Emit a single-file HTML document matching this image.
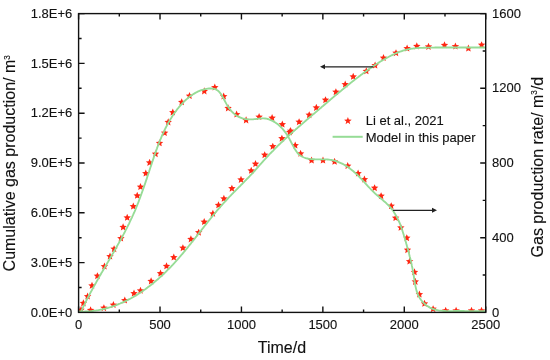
<!DOCTYPE html><html><head><meta charset="utf-8"><style>html,body{margin:0;padding:0;background:#fff;}svg{display:block;}text{font-family:"Liberation Sans",Arial,sans-serif;fill:#111;stroke:#111;stroke-width:0.12px;}</style></head><body>
<svg width="550" height="360" viewBox="0 0 550 360">
<rect width="550" height="360" fill="#fff"/>
<path d="M78.60 312.40V306.40M78.60 13.60V19.60M119.31 312.40V309.40M119.31 13.60V16.60M160.02 312.40V306.40M160.02 13.60V19.60M200.73 312.40V309.40M200.73 13.60V16.60M241.44 312.40V306.40M241.44 13.60V19.60M282.15 312.40V309.40M282.15 13.60V16.60M322.86 312.40V306.40M322.86 13.60V19.60M363.57 312.40V309.40M363.57 13.60V16.60M404.28 312.40V306.40M404.28 13.60V19.60M444.99 312.40V309.40M444.99 13.60V16.60M485.70 312.40V306.40M485.70 13.60V19.60M78.60 312.40H84.60M78.60 287.50H81.60M78.60 262.60H84.60M78.60 237.70H81.60M78.60 212.80H84.60M78.60 187.90H81.60M78.60 163.00H84.60M78.60 138.10H81.60M78.60 113.20H84.60M78.60 88.30H81.60M78.60 63.40H84.60M78.60 38.50H81.60M78.60 13.60H84.60M485.70 312.40H480.20M485.70 275.05H482.70M485.70 237.70H480.20M485.70 200.35H482.70M485.70 163.00H480.20M485.70 125.65H482.70M485.70 88.30H480.20M485.70 50.95H482.70M485.70 13.60H480.20" stroke="#111" stroke-width="1.4" fill="none"/>
<defs><clipPath id="pa"><rect x="78.60" y="13.60" width="407.10" height="299.10"/></clipPath></defs><g clip-path="url(#pa)">
<path d="M81.00 306.05L82.06 308.49L84.71 308.74L82.71 310.51L83.29 313.11L81.00 311.75L78.71 313.11L79.29 310.51L77.29 308.74L79.94 308.49ZM83.40 299.35L84.46 301.79L87.11 302.04L85.11 303.81L85.69 306.41L83.40 305.05L81.11 306.41L81.69 303.81L79.69 302.04L82.34 301.79ZM87.60 292.55L88.66 294.99L91.31 295.24L89.31 297.01L89.89 299.61L87.60 298.25L85.31 299.61L85.89 297.01L83.89 295.24L86.54 294.99ZM92.00 281.75L93.06 284.19L95.71 284.44L93.71 286.21L94.29 288.81L92.00 287.45L89.71 288.81L90.29 286.21L88.29 284.44L90.94 284.19ZM97.40 272.15L98.46 274.59L101.11 274.84L99.11 276.61L99.69 279.21L97.40 277.85L95.11 279.21L95.69 276.61L93.69 274.84L96.34 274.59ZM104.40 262.55L105.46 264.99L108.11 265.24L106.11 267.01L106.69 269.61L104.40 268.25L102.11 269.61L102.69 267.01L100.69 265.24L103.34 264.99ZM110.00 252.55L111.06 254.99L113.71 255.24L111.71 257.01L112.29 259.61L110.00 258.25L107.71 259.61L108.29 257.01L106.29 255.24L108.94 254.99ZM114.10 245.15L115.16 247.59L117.81 247.84L115.81 249.61L116.39 252.21L114.10 250.85L111.81 252.21L112.39 249.61L110.39 247.84L113.04 247.59ZM120.90 234.55L121.96 236.99L124.61 237.24L122.61 239.01L123.19 241.61L120.90 240.25L118.61 241.61L119.19 239.01L117.19 237.24L119.84 236.99ZM123.10 223.35L124.16 225.79L126.81 226.04L124.81 227.81L125.39 230.41L123.10 229.05L120.81 230.41L121.39 227.81L119.39 226.04L122.04 225.79ZM127.20 213.75L128.26 216.19L130.91 216.44L128.91 218.21L129.49 220.81L127.20 219.45L124.91 220.81L125.49 218.21L123.49 216.44L126.14 216.19ZM133.30 202.55L134.36 204.99L137.01 205.24L135.01 207.01L135.59 209.61L133.30 208.25L131.01 209.61L131.59 207.01L129.59 205.24L132.24 204.99ZM137.20 191.75L138.26 194.19L140.91 194.44L138.91 196.21L139.49 198.81L137.20 197.45L134.91 198.81L135.49 196.21L133.49 194.44L136.14 194.19ZM140.50 182.95L141.56 185.39L144.21 185.64L142.21 187.41L142.79 190.01L140.50 188.65L138.21 190.01L138.79 187.41L136.79 185.64L139.44 185.39ZM145.80 169.55L146.86 171.99L149.51 172.24L147.51 174.01L148.09 176.61L145.80 175.25L143.51 176.61L144.09 174.01L142.09 172.24L144.74 171.99ZM149.60 158.85L150.66 161.29L153.31 161.54L151.31 163.31L151.89 165.91L149.60 164.55L147.31 165.91L147.89 163.31L145.89 161.54L148.54 161.29ZM155.50 150.15L156.56 152.59L159.21 152.84L157.21 154.61L157.79 157.21L155.50 155.85L153.21 157.21L153.79 154.61L151.79 152.84L154.44 152.59ZM159.50 139.25L160.56 141.69L163.21 141.94L161.21 143.71L161.79 146.31L159.50 144.95L157.21 146.31L157.79 143.71L155.79 141.94L158.44 141.69ZM164.60 129.05L165.66 131.49L168.31 131.74L166.31 133.51L166.89 136.11L164.60 134.75L162.31 136.11L162.89 133.51L160.89 131.74L163.54 131.49ZM168.20 118.35L169.26 120.79L171.91 121.04L169.91 122.81L170.49 125.41L168.20 124.05L165.91 125.41L166.49 122.81L164.49 121.04L167.14 120.79ZM172.80 108.55L173.86 110.99L176.51 111.24L174.51 113.01L175.09 115.61L172.80 114.25L170.51 115.61L171.09 113.01L169.09 111.24L171.74 110.99ZM181.70 98.25L182.76 100.69L185.41 100.94L183.41 102.71L183.99 105.31L181.70 103.95L179.41 105.31L179.99 102.71L177.99 100.94L180.64 100.69ZM189.50 92.05L190.56 94.49L193.21 94.74L191.21 96.51L191.79 99.11L189.50 97.75L187.21 99.11L187.79 96.51L185.79 94.74L188.44 94.49ZM204.30 87.35L205.36 89.79L208.01 90.04L206.01 91.81L206.59 94.41L204.30 93.05L202.01 94.41L202.59 91.81L200.59 90.04L203.24 89.79ZM214.80 83.55L215.86 85.99L218.51 86.24L216.51 88.01L217.09 90.61L214.80 89.25L212.51 90.61L213.09 88.01L211.09 86.24L213.74 85.99ZM223.70 92.55L224.76 94.99L227.41 95.24L225.41 97.01L225.99 99.61L223.70 98.25L221.41 99.61L221.99 97.01L219.99 95.24L222.64 94.99ZM228.10 104.35L229.16 106.79L231.81 107.04L229.81 108.81L230.39 111.41L228.10 110.05L225.81 111.41L226.39 108.81L224.39 107.04L227.04 106.79ZM236.60 110.55L237.66 112.99L240.31 113.24L238.31 115.01L238.89 117.61L236.60 116.25L234.31 117.61L234.89 115.01L232.89 113.24L235.54 112.99ZM246.10 116.35L247.16 118.79L249.81 119.04L247.81 120.81L248.39 123.41L246.10 122.05L243.81 123.41L244.39 120.81L242.39 119.04L245.04 118.79ZM259.10 112.95L260.16 115.39L262.81 115.64L260.81 117.41L261.39 120.01L259.10 118.65L256.81 120.01L257.39 117.41L255.39 115.64L258.04 115.39ZM272.10 114.05L273.16 116.49L275.81 116.74L273.81 118.51L274.39 121.11L272.10 119.75L269.81 121.11L270.39 118.51L268.39 116.74L271.04 116.49ZM282.30 120.55L283.36 122.99L286.01 123.24L284.01 125.01L284.59 127.61L282.30 126.25L280.01 127.61L280.59 125.01L278.59 123.24L281.24 122.99ZM290.60 126.95L291.66 129.39L294.31 129.64L292.31 131.41L292.89 134.01L290.60 132.65L288.31 134.01L288.89 131.41L286.89 129.64L289.54 129.39ZM295.20 141.55L296.26 143.99L298.91 144.24L296.91 146.01L297.49 148.61L295.20 147.25L292.91 148.61L293.49 146.01L291.49 144.24L294.14 143.99ZM300.60 149.75L301.66 152.19L304.31 152.44L302.31 154.21L302.89 156.81L300.60 155.45L298.31 156.81L298.89 154.21L296.89 152.44L299.54 152.19ZM311.60 156.45L312.66 158.89L315.31 159.14L313.31 160.91L313.89 163.51L311.60 162.15L309.31 163.51L309.89 160.91L307.89 159.14L310.54 158.89ZM323.00 156.55L324.06 158.99L326.71 159.24L324.71 161.01L325.29 163.61L323.00 162.25L320.71 163.61L321.29 161.01L319.29 159.24L321.94 158.99ZM334.60 157.75L335.66 160.19L338.31 160.44L336.31 162.21L336.89 164.81L334.60 163.45L332.31 164.81L332.89 162.21L330.89 160.44L333.54 160.19ZM347.70 162.05L348.76 164.49L351.41 164.74L349.41 166.51L349.99 169.11L347.70 167.75L345.41 169.11L345.99 166.51L343.99 164.74L346.64 164.49ZM358.10 169.55L359.16 171.99L361.81 172.24L359.81 174.01L360.39 176.61L358.10 175.25L355.81 176.61L356.39 174.01L354.39 172.24L357.04 171.99ZM364.40 175.55L365.46 177.99L368.11 178.24L366.11 180.01L366.69 182.61L364.40 181.25L362.11 182.61L362.69 180.01L360.69 178.24L363.34 177.99ZM374.60 184.15L375.66 186.59L378.31 186.84L376.31 188.61L376.89 191.21L374.60 189.85L372.31 191.21L372.89 188.61L370.89 186.84L373.54 186.59ZM381.10 192.15L382.16 194.59L384.81 194.84L382.81 196.61L383.39 199.21L381.10 197.85L378.81 199.21L379.39 196.61L377.39 194.84L380.04 194.59ZM391.20 202.15L392.26 204.59L394.91 204.84L392.91 206.61L393.49 209.21L391.20 207.85L388.91 209.21L389.49 206.61L387.49 204.84L390.14 204.59ZM395.60 213.95L396.66 216.39L399.31 216.64L397.31 218.41L397.89 221.01L395.60 219.65L393.31 221.01L393.89 218.41L391.89 216.64L394.54 216.39ZM400.80 223.75L401.86 226.19L404.51 226.44L402.51 228.21L403.09 230.81L400.80 229.45L398.51 230.81L399.09 228.21L397.09 226.44L399.74 226.19ZM406.80 234.15L407.86 236.59L410.51 236.84L408.51 238.61L409.09 241.21L406.80 239.85L404.51 241.21L405.09 238.61L403.09 236.84L405.74 236.59ZM407.50 246.15L408.56 248.59L411.21 248.84L409.21 250.61L409.79 253.21L407.50 251.85L405.21 253.21L405.79 250.61L403.79 248.84L406.44 248.59ZM409.60 257.45L410.66 259.89L413.31 260.14L411.31 261.91L411.89 264.51L409.60 263.15L407.31 264.51L407.89 261.91L405.89 260.14L408.54 259.89ZM414.50 268.25L415.56 270.69L418.21 270.94L416.21 272.71L416.79 275.31L414.50 273.95L412.21 275.31L412.79 272.71L410.79 270.94L413.44 270.69ZM415.30 277.85L416.36 280.29L419.01 280.54L417.01 282.31L417.59 284.91L415.30 283.55L413.01 284.91L413.59 282.31L411.59 280.54L414.24 280.29ZM419.40 290.45L420.46 292.89L423.11 293.14L421.11 294.91L421.69 297.51L419.40 296.15L417.11 297.51L417.69 294.91L415.69 293.14L418.34 292.89ZM424.50 299.75L425.56 302.19L428.21 302.44L426.21 304.21L426.79 306.81L424.50 305.45L422.21 306.81L422.79 304.21L420.79 302.44L423.44 302.19ZM433.10 305.15L434.16 307.59L436.81 307.84L434.81 309.61L435.39 312.21L433.10 310.85L430.81 312.21L431.39 309.61L429.39 307.84L432.04 307.59ZM445.70 306.75L446.76 309.19L449.41 309.44L447.41 311.21L447.99 313.81L445.70 312.45L443.41 313.81L443.99 311.21L441.99 309.44L444.64 309.19ZM456.10 306.75L457.16 309.19L459.81 309.44L457.81 311.21L458.39 313.81L456.10 312.45L453.81 313.81L454.39 311.21L452.39 309.44L455.04 309.19ZM471.50 306.85L472.56 309.29L475.21 309.54L473.21 311.31L473.79 313.91L471.50 312.55L469.21 313.91L469.79 311.31L467.79 309.54L470.44 309.29ZM481.50 306.85L482.56 309.29L485.21 309.54L483.21 311.31L483.79 313.91L481.50 312.55L479.21 313.91L479.79 311.31L477.79 309.54L480.44 309.29ZM90.60 306.35L91.66 308.79L94.31 309.04L92.31 310.81L92.89 313.41L90.60 312.05L88.31 313.41L88.89 310.81L86.89 309.04L89.54 308.79ZM103.90 304.15L104.96 306.59L107.61 306.84L105.61 308.61L106.19 311.21L103.90 309.85L101.61 311.21L102.19 308.61L100.19 306.84L102.84 306.59ZM113.40 300.95L114.46 303.39L117.11 303.64L115.11 305.41L115.69 308.01L113.40 306.65L111.11 308.01L111.69 305.41L109.69 303.64L112.34 303.39ZM124.80 296.45L125.86 298.89L128.51 299.14L126.51 300.91L127.09 303.51L124.80 302.15L122.51 303.51L123.09 300.91L121.09 299.14L123.74 298.89ZM134.00 289.55L135.06 291.99L137.71 292.24L135.71 294.01L136.29 296.61L134.00 295.25L131.71 296.61L132.29 294.01L130.29 292.24L132.94 291.99ZM140.50 286.75L141.56 289.19L144.21 289.44L142.21 291.21L142.79 293.81L140.50 292.45L138.21 293.81L138.79 291.21L136.79 289.44L139.44 289.19ZM151.10 277.35L152.16 279.79L154.81 280.04L152.81 281.81L153.39 284.41L151.10 283.05L148.81 284.41L149.39 281.81L147.39 280.04L150.04 279.79ZM160.50 269.55L161.56 271.99L164.21 272.24L162.21 274.01L162.79 276.61L160.50 275.25L158.21 276.61L158.79 274.01L156.79 272.24L159.44 271.99ZM166.50 262.25L167.56 264.69L170.21 264.94L168.21 266.71L168.79 269.31L166.50 267.95L164.21 269.31L164.79 266.71L162.79 264.94L165.44 264.69ZM173.80 253.45L174.86 255.89L177.51 256.14L175.51 257.91L176.09 260.51L173.80 259.15L171.51 260.51L172.09 257.91L170.09 256.14L172.74 255.89ZM182.90 244.15L183.96 246.59L186.61 246.84L184.61 248.61L185.19 251.21L182.90 249.85L180.61 251.21L181.19 248.61L179.19 246.84L181.84 246.59ZM190.90 235.35L191.96 237.79L194.61 238.04L192.61 239.81L193.19 242.41L190.90 241.05L188.61 242.41L189.19 239.81L187.19 238.04L189.84 237.79ZM198.70 228.65L199.76 231.09L202.41 231.34L200.41 233.11L200.99 235.71L198.70 234.35L196.41 235.71L196.99 233.11L194.99 231.34L197.64 231.09ZM204.20 218.05L205.26 220.49L207.91 220.74L205.91 222.51L206.49 225.11L204.20 223.75L201.91 225.11L202.49 222.51L200.49 220.74L203.14 220.49ZM212.90 209.75L213.96 212.19L216.61 212.44L214.61 214.21L215.19 216.81L212.90 215.45L210.61 216.81L211.19 214.21L209.19 212.44L211.84 212.19ZM218.50 201.25L219.56 203.69L222.21 203.94L220.21 205.71L220.79 208.31L218.50 206.95L216.21 208.31L216.79 205.71L214.79 203.94L217.44 203.69ZM223.90 194.75L224.96 197.19L227.61 197.44L225.61 199.21L226.19 201.81L223.90 200.45L221.61 201.81L222.19 199.21L220.19 197.44L222.84 197.19ZM231.90 184.65L232.96 187.09L235.61 187.34L233.61 189.11L234.19 191.71L231.90 190.35L229.61 191.71L230.19 189.11L228.19 187.34L230.84 187.09ZM241.00 175.85L242.06 178.29L244.71 178.54L242.71 180.31L243.29 182.91L241.00 181.55L238.71 182.91L239.29 180.31L237.29 178.54L239.94 178.29ZM251.20 166.75L252.26 169.19L254.91 169.44L252.91 171.21L253.49 173.81L251.20 172.45L248.91 173.81L249.49 171.21L247.49 169.44L250.14 169.19ZM255.50 160.05L256.56 162.49L259.21 162.74L257.21 164.51L257.79 167.11L255.50 165.75L253.21 167.11L253.79 164.51L251.79 162.74L254.44 162.49ZM264.70 151.15L265.76 153.59L268.41 153.84L266.41 155.61L266.99 158.21L264.70 156.85L262.41 158.21L262.99 155.61L260.99 153.84L263.64 153.59ZM272.80 142.65L273.86 145.09L276.51 145.34L274.51 147.11L275.09 149.71L272.80 148.35L270.51 149.71L271.09 147.11L269.09 145.34L271.74 145.09ZM281.90 134.65L282.96 137.09L285.61 137.34L283.61 139.11L284.19 141.71L281.90 140.35L279.61 141.71L280.19 139.11L278.19 137.34L280.84 137.09ZM289.70 128.35L290.76 130.79L293.41 131.04L291.41 132.81L291.99 135.41L289.70 134.05L287.41 135.41L287.99 132.81L285.99 131.04L288.64 130.79ZM299.10 118.15L300.16 120.59L302.81 120.84L300.81 122.61L301.39 125.21L299.10 123.85L296.81 125.21L297.39 122.61L295.39 120.84L298.04 120.59ZM309.20 111.15L310.26 113.59L312.91 113.84L310.91 115.61L311.49 118.21L309.20 116.85L306.91 118.21L307.49 115.61L305.49 113.84L308.14 113.59ZM316.30 103.85L317.36 106.29L320.01 106.54L318.01 108.31L318.59 110.91L316.30 109.55L314.01 110.91L314.59 108.31L312.59 106.54L315.24 106.29ZM325.50 96.15L326.56 98.59L329.21 98.84L327.21 100.61L327.79 103.21L325.50 101.85L323.21 103.21L323.79 100.61L321.79 98.84L324.44 98.59ZM335.90 88.15L336.96 90.59L339.61 90.84L337.61 92.61L338.19 95.21L335.90 93.85L333.61 95.21L334.19 92.61L332.19 90.84L334.84 90.59ZM345.20 80.55L346.26 82.99L348.91 83.24L346.91 85.01L347.49 87.61L345.20 86.25L342.91 87.61L343.49 85.01L341.49 83.24L344.14 82.99ZM353.20 72.75L354.26 75.19L356.91 75.44L354.91 77.21L355.49 79.81L353.20 78.45L350.91 79.81L351.49 77.21L349.49 75.44L352.14 75.19ZM366.30 67.25L367.36 69.69L370.01 69.94L368.01 71.71L368.59 74.31L366.30 72.95L364.01 74.31L364.59 71.71L362.59 69.94L365.24 69.69ZM375.10 61.45L376.16 63.89L378.81 64.14L376.81 65.91L377.39 68.51L375.10 67.15L372.81 68.51L373.39 65.91L371.39 64.14L374.04 63.89ZM383.50 54.05L384.56 56.49L387.21 56.74L385.21 58.51L385.79 61.11L383.50 59.75L381.21 61.11L381.79 58.51L379.79 56.74L382.44 56.49ZM396.00 49.15L397.06 51.59L399.71 51.84L397.71 53.61L398.29 56.21L396.00 54.85L393.71 56.21L394.29 53.61L392.29 51.84L394.94 51.59ZM407.10 44.55L408.16 46.99L410.81 47.24L408.81 49.01L409.39 51.61L407.10 50.25L404.81 51.61L405.39 49.01L403.39 47.24L406.04 46.99ZM416.80 42.35L417.86 44.79L420.51 45.04L418.51 46.81L419.09 49.41L416.80 48.05L414.51 49.41L415.09 46.81L413.09 45.04L415.74 44.79ZM428.50 42.85L429.56 45.29L432.21 45.54L430.21 47.31L430.79 49.91L428.50 48.55L426.21 49.91L426.79 47.31L424.79 45.54L427.44 45.29ZM444.50 41.25L445.56 43.69L448.21 43.94L446.21 45.71L446.79 48.31L444.50 46.95L442.21 48.31L442.79 45.71L440.79 43.94L443.44 43.69ZM455.40 42.55L456.46 44.99L459.11 45.24L457.11 47.01L457.69 49.61L455.40 48.25L453.11 49.61L453.69 47.01L451.69 45.24L454.34 44.99ZM468.40 44.45L469.46 46.89L472.11 47.14L470.11 48.91L470.69 51.51L468.40 50.15L466.11 51.51L466.69 48.91L464.69 47.14L467.34 46.89ZM481.60 41.15L482.66 43.59L485.31 43.84L483.31 45.61L483.89 48.21L481.60 46.85L479.31 48.21L479.89 45.61L477.89 43.84L480.54 43.59Z" fill="#ff2612"/>
<path d="M81.0 311.8L81.5 310.6L82.1 309.4L82.7 308.2L83.2 307.0L83.8 305.8L84.4 304.6L85.0 303.4L85.5 302.3L86.1 301.1L86.7 299.9L87.3 298.7L87.9 297.5L88.6 296.3L89.2 295.2L89.8 294.0L90.4 292.8L91.0 291.7L91.7 290.5L92.3 289.3L92.9 288.2L93.6 287.0L94.2 285.8L94.9 284.7L95.5 283.5L96.2 282.4L96.8 281.2L97.5 280.0L98.1 278.9L98.8 277.7L99.4 276.6L100.1 275.4L100.8 274.3L101.4 273.1L102.1 272.0L102.8 270.8L103.4 269.7L104.1 268.5L104.8 267.4L105.4 266.2L106.1 265.1L106.8 264.0L107.4 262.8L108.1 261.7L108.8 260.5L109.5 259.4L110.1 258.2L110.8 257.1L111.5 255.9L112.1 254.8L112.8 253.6L113.5 252.5L114.1 251.3L114.8 250.2L115.4 249.0L116.1 247.9L116.7 246.7L117.4 245.6L118.0 244.4L118.7 243.2L119.3 242.1L120.0 240.9L120.6 239.8L121.3 238.6L121.9 237.4L122.5 236.3L123.1 235.1L123.8 233.9L124.4 232.8L125.0 231.6L125.6 230.4L126.2 229.2L126.8 228.1L127.4 226.9L128.0 225.7L128.6 224.5L129.2 223.3L129.7 222.1L130.3 220.9L130.9 219.7L131.4 218.5L132.0 217.3L132.5 216.1L133.1 214.9L133.6 213.7L134.2 212.5L134.7 211.3L135.2 210.1L135.7 208.8L136.2 207.6L136.7 206.4L137.2 205.1L137.7 203.9L138.2 202.7L138.7 201.4L139.1 200.2L139.6 199.0L140.1 197.7L140.5 196.5L141.0 195.2L141.4 194.0L141.9 192.7L142.3 191.5L142.8 190.2L143.2 188.9L143.7 187.7L144.1 186.4L144.5 185.2L145.0 183.9L145.4 182.6L145.8 181.4L146.2 180.1L146.7 178.9L147.1 177.6L147.5 176.3L147.9 175.1L148.3 173.8L148.8 172.5L149.2 171.3L149.6 170.0L150.0 168.7L150.4 167.5L150.9 166.2L151.3 164.9L151.7 163.7L152.1 162.4L152.5 161.2L153.0 159.9L153.4 158.6L153.8 157.4L154.2 156.1L154.7 154.9L155.1 153.6L155.6 152.4L156.0 151.1L156.4 149.9L156.9 148.6L157.3 147.4L157.8 146.2L158.3 144.9L158.7 143.7L159.2 142.5L159.7 141.2L160.2 140.0L160.7 138.8L161.2 137.6L161.7 136.4L162.2 135.2L162.8 134.0L163.3 132.8L163.9 131.6L164.4 130.4L165.0 129.2L165.6 128.0L166.2 126.8L166.8 125.7L167.4 124.5L168.0 123.4L168.7 122.2L169.3 121.1L170.0 119.9L170.7 118.8L171.4 117.7L172.1 116.5L172.8 115.4L173.5 114.3L174.3 113.2L175.1 112.1L175.9 111.1L176.7 110.0L177.5 108.9L178.4 107.9L179.2 106.8L180.1 105.8L181.0 104.8L181.9 103.8L182.8 102.8L183.8 101.8L184.7 100.9L185.7 100.0L186.7 99.1L187.8 98.2L188.8 97.4L189.8 96.5L190.9 95.7L192.0 95.0L193.1 94.3L194.2 93.6L195.4 92.9L196.5 92.3L197.7 91.7L198.9 91.2L200.1 90.7L201.3 90.2L202.6 89.8L203.9 89.5L205.1 89.1L206.4 88.9L207.7 88.7L209.1 88.5L210.3 88.5L211.6 88.5L212.9 88.6L214.1 88.8L215.2 89.2L216.3 89.7L217.3 90.3L218.3 91.0L219.2 91.9L220.0 92.9L220.8 93.9L221.6 95.0L222.3 96.2L223.0 97.5L223.7 98.8L224.3 100.0L225.0 101.3L225.7 102.6L226.4 103.9L227.1 105.1L227.8 106.3L228.6 107.4L229.4 108.6L230.2 109.6L231.0 110.6L231.9 111.6L232.8 112.5L233.7 113.4L234.7 114.2L235.7 115.0L236.7 115.7L237.8 116.4L239.0 116.9L240.1 117.5L241.3 117.9L242.5 118.4L243.8 118.7L245.1 119.0L246.4 119.2L247.7 119.4L249.0 119.4L250.4 119.4L251.7 119.4L253.1 119.3L254.4 119.1L255.8 119.0L257.1 118.8L258.5 118.7L259.8 118.5L261.2 118.4L262.5 118.4L263.8 118.4L265.1 118.5L266.4 118.7L267.7 119.0L269.0 119.4L270.2 119.8L271.4 120.3L272.6 120.9L273.8 121.6L274.9 122.3L276.0 123.0L277.1 123.8L278.2 124.6L279.2 125.5L280.1 126.4L281.0 127.3L281.9 128.2L282.8 129.1L283.6 130.1L284.4 131.1L285.2 132.1L285.9 133.1L286.6 134.2L287.3 135.3L288.0 136.4L288.7 137.6L289.4 138.8L290.0 140.0L290.7 141.3L291.3 142.5L292.0 143.8L292.7 145.1L293.4 146.4L294.0 147.7L294.8 148.9L295.5 150.1L296.3 151.2L297.1 152.3L297.9 153.3L298.8 154.3L299.8 155.1L300.7 155.8L301.8 156.5L302.9 157.0L304.0 157.5L305.1 157.9L306.3 158.3L307.5 158.5L308.8 158.8L310.0 158.9L311.3 159.1L312.6 159.2L314.0 159.2L315.3 159.3L316.7 159.3L318.1 159.3L319.4 159.3L320.8 159.3L322.2 159.3L323.6 159.3L325.0 159.4L326.3 159.4L327.7 159.5L329.0 159.6L330.3 159.8L331.7 160.0L332.9 160.3L334.2 160.6L335.5 161.0L336.7 161.4L337.9 161.8L339.1 162.3L340.3 162.8L341.5 163.3L342.7 163.9L343.8 164.5L344.9 165.2L346.0 165.9L347.1 166.6L348.2 167.3L349.3 168.1L350.4 168.9L351.4 169.7L352.4 170.5L353.4 171.3L354.4 172.2L355.4 173.1L356.4 174.0L357.4 174.9L358.3 175.9L359.3 176.8L360.2 177.8L361.1 178.7L362.0 179.7L362.9 180.7L363.8 181.6L364.7 182.6L365.6 183.6L366.5 184.6L367.4 185.6L368.3 186.6L369.2 187.5L370.1 188.5L371.0 189.5L372.0 190.4L372.9 191.4L373.9 192.3L374.8 193.2L375.8 194.1L376.8 195.0L377.8 195.9L378.9 196.8L379.9 197.6L380.9 198.5L381.9 199.4L383.0 200.3L384.0 201.2L385.0 202.0L386.0 202.9L386.9 203.9L387.9 204.8L388.8 205.7L389.7 206.7L390.6 207.7L391.4 208.7L392.2 209.7L393.0 210.8L393.7 211.8L394.4 212.9L395.1 214.0L395.8 215.2L396.4 216.3L397.0 217.4L397.6 218.6L398.2 219.8L398.7 221.0L399.3 222.2L399.8 223.4L400.3 224.7L400.8 225.9L401.2 227.2L401.7 228.4L402.1 229.7L402.5 230.9L402.9 232.2L403.3 233.5L403.7 234.8L404.1 236.1L404.5 237.3L404.9 238.6L405.2 239.9L405.6 241.2L406.0 242.5L406.3 243.7L406.7 245.0L407.0 246.3L407.4 247.6L407.7 248.8L408.1 250.1L408.4 251.4L408.8 252.6L409.1 253.9L409.4 255.2L409.7 256.5L410.1 257.7L410.4 259.0L410.7 260.3L411.0 261.6L411.3 262.9L411.6 264.1L411.8 265.4L412.1 266.7L412.4 268.0L412.6 269.4L412.9 270.7L413.1 272.0L413.3 273.3L413.6 274.6L413.8 276.0L414.0 277.3L414.2 278.7L414.4 280.0L414.6 281.4L414.8 282.7L415.0 284.1L415.3 285.4L415.6 286.8L415.9 288.1L416.2 289.4L416.5 290.6L416.9 291.9L417.4 293.2L417.9 294.4L418.4 295.6L419.0 296.7L419.6 297.8L420.3 298.9L421.1 300.0L421.9 301.0L422.7 302.0L423.7 302.9L424.6 303.8L425.6 304.7L426.6 305.5L427.7 306.2L428.8 306.9L429.9 307.6L431.1 308.1L432.3 308.7L433.5 309.1L434.7 309.5L436.0 309.8L437.2 310.1L438.5 310.4L439.8 310.6L441.1 310.7L442.4 310.9L443.8 311.0L445.1 311.0L446.4 311.1L447.8 311.1L449.1 311.1L450.5 311.1L451.8 311.1L453.2 311.1L454.5 311.0L455.9 311.0L457.2 311.0L458.5 311.0L459.8 311.0L461.2 311.0L462.5 311.0L463.8 311.0L465.1 311.1L466.4 311.1L467.8 311.1L469.1 311.1L470.4 311.1L471.7 311.1L473.0 311.1L474.3 311.1L475.7 311.2L477.0 311.2L478.3 311.2L479.6 311.2L481.0 311.1L482.3 311.1L483.7 311.1L485.0 311.1" fill="none" stroke="#96dc96" stroke-width="1.85" stroke-linejoin="round" stroke-linecap="round"/>
<path d="M78.5 311.5L79.5 311.5L80.5 311.6L81.6 311.6L82.6 311.6L83.6 311.6L84.6 311.6L85.6 311.5L86.6 311.5L87.7 311.4L88.7 311.4L89.7 311.3L90.7 311.2L91.7 311.1L92.7 311.0L93.7 310.9L94.7 310.7L95.7 310.6L96.7 310.4L97.7 310.3L98.7 310.1L99.7 309.9L100.7 309.7L101.7 309.5L102.7 309.2L103.7 309.0L104.7 308.8L105.7 308.5L106.6 308.2L107.6 308.0L108.6 307.7L109.6 307.4L110.5 307.1L111.5 306.8L112.5 306.4L113.4 306.1L114.4 305.8L115.3 305.4L116.3 305.1L117.3 304.7L118.2 304.3L119.1 303.9L120.1 303.5L121.0 303.1L122.0 302.7L122.9 302.3L123.8 301.9L124.7 301.4L125.7 301.0L126.6 300.5L127.5 300.1L128.4 299.6L129.3 299.2L130.2 298.7L131.1 298.2L132.0 297.7L132.9 297.2L133.8 296.7L134.7 296.2L135.5 295.7L136.4 295.1L137.3 294.6L138.1 294.1L139.0 293.5L139.8 293.0L140.7 292.4L141.5 291.8L142.4 291.3L143.2 290.7L144.0 290.1L144.9 289.5L145.7 288.9L146.5 288.3L147.3 287.7L148.1 287.1L148.9 286.5L149.7 285.9L150.5 285.3L151.3 284.7L152.1 284.0L152.9 283.4L153.7 282.7L154.5 282.1L155.3 281.4L156.0 280.8L156.8 280.1L157.6 279.5L158.3 278.8L159.1 278.1L159.8 277.4L160.6 276.7L161.3 276.1L162.1 275.4L162.8 274.7L163.6 274.0L164.3 273.3L165.0 272.6L165.8 271.9L166.5 271.1L167.2 270.4L167.9 269.7L168.6 269.0L169.4 268.3L170.1 267.5L170.8 266.8L171.5 266.0L172.2 265.3L172.9 264.6L173.6 263.8L174.3 263.1L174.9 262.3L175.6 261.6L176.3 260.8L177.0 260.0L177.7 259.3L178.4 258.5L179.0 257.8L179.7 257.0L180.4 256.2L181.0 255.4L181.7 254.7L182.4 253.9L183.0 253.1L183.7 252.3L184.3 251.5L185.0 250.8L185.6 250.0L186.3 249.2L186.9 248.4L187.6 247.6L188.2 246.8L188.8 246.0L189.5 245.2L190.1 244.4L190.8 243.6L191.4 242.8L192.0 242.0L192.7 241.2L193.3 240.4L193.9 239.6L194.6 238.8L195.2 238.0L195.8 237.2L196.5 236.4L197.1 235.6L197.7 234.8L198.3 234.0L199.0 233.2L199.6 232.4L200.2 231.6L200.9 230.8L201.5 230.0L202.1 229.2L202.7 228.4L203.4 227.6L204.0 226.8L204.6 226.0L205.3 225.2L205.9 224.4L206.5 223.6L207.1 222.8L207.8 222.0L208.4 221.2L209.0 220.4L209.7 219.6L210.3 218.8L211.0 218.0L211.6 217.2L212.2 216.4L212.9 215.6L213.5 214.9L214.2 214.1L214.8 213.3L215.5 212.5L216.1 211.7L216.8 210.9L217.4 210.2L218.1 209.4L218.7 208.6L219.4 207.9L220.1 207.1L220.7 206.3L221.4 205.6L222.1 204.8L222.8 204.0L223.4 203.3L224.1 202.5L224.8 201.8L225.5 201.0L226.2 200.3L226.9 199.6L227.6 198.8L228.2 198.1L228.9 197.3L229.6 196.6L230.4 195.9L231.1 195.1L231.8 194.4L232.5 193.7L233.2 193.0L233.9 192.2L234.6 191.5L235.3 190.8L236.0 190.1L236.7 189.4L237.5 188.6L238.2 187.9L238.9 187.2L239.6 186.5L240.3 185.8L241.0 185.0L241.8 184.3L242.5 183.6L243.2 182.9L243.9 182.1L244.6 181.4L245.3 180.7L246.0 180.0L246.7 179.2L247.4 178.5L248.1 177.8L248.9 177.0L249.6 176.3L250.2 175.5L250.9 174.8L251.6 174.1L252.3 173.3L253.0 172.6L253.7 171.8L254.4 171.1L255.1 170.3L255.8 169.5L256.4 168.8L257.1 168.0L257.8 167.3L258.5 166.5L259.2 165.7L259.8 165.0L260.5 164.2L261.2 163.5L261.9 162.7L262.6 161.9L263.2 161.2L263.9 160.4L264.6 159.7L265.3 158.9L266.0 158.2L266.7 157.4L267.4 156.7L268.1 155.9L268.7 155.2L269.4 154.4L270.1 153.7L270.8 153.0L271.6 152.2L272.3 151.5L273.0 150.8L273.7 150.0L274.4 149.3L275.1 148.6L275.8 147.9L276.6 147.2L277.3 146.4L278.0 145.7L278.7 145.0L279.5 144.3L280.2 143.6L280.9 142.9L281.7 142.2L282.4 141.5L283.1 140.8L283.9 140.1L284.6 139.4L285.4 138.7L286.1 138.0L286.9 137.4L287.6 136.7L288.4 136.0L289.1 135.3L289.9 134.6L290.6 133.9L291.4 133.3L292.1 132.6L292.9 131.9L293.7 131.2L294.4 130.5L295.2 129.9L295.9 129.2L296.7 128.5L297.5 127.9L298.2 127.2L299.0 126.5L299.8 125.9L300.6 125.2L301.3 124.5L302.1 123.9L302.9 123.2L303.6 122.5L304.4 121.9L305.2 121.2L306.0 120.5L306.7 119.9L307.5 119.2L308.3 118.6L309.0 117.9L309.8 117.2L310.6 116.6L311.4 115.9L312.1 115.2L312.9 114.6L313.7 113.9L314.5 113.3L315.2 112.6L316.0 111.9L316.8 111.3L317.6 110.6L318.3 110.0L319.1 109.3L319.9 108.6L320.7 108.0L321.4 107.3L322.2 106.6L323.0 106.0L323.8 105.3L324.5 104.7L325.3 104.0L326.1 103.3L326.9 102.7L327.6 102.0L328.4 101.4L329.2 100.7L330.0 100.0L330.7 99.4L331.5 98.7L332.3 98.1L333.1 97.4L333.8 96.8L334.6 96.1L335.4 95.4L336.2 94.8L337.0 94.1L337.7 93.5L338.5 92.8L339.3 92.2L340.1 91.5L340.9 90.9L341.7 90.2L342.4 89.6L343.2 89.0L344.0 88.3L344.8 87.7L345.6 87.0L346.4 86.4L347.2 85.7L348.0 85.1L348.8 84.5L349.6 83.8L350.3 83.2L351.1 82.6L351.9 81.9L352.7 81.3L353.5 80.7L354.3 80.1L355.1 79.4L355.9 78.8L356.7 78.2L357.6 77.6L358.4 77.0L359.2 76.3L360.0 75.7L360.8 75.1L361.6 74.5L362.4 73.9L363.2 73.3L364.0 72.7L364.9 72.1L365.7 71.5L366.5 70.9L367.3 70.3L368.2 69.7L369.0 69.1L369.8 68.6L370.7 68.0L371.5 67.4L372.3 66.8L373.2 66.3L374.0 65.7L374.9 65.1L375.7 64.6L376.6 64.0L377.4 63.5L378.3 62.9L379.2 62.4L380.0 61.8L380.9 61.3L381.8 60.8L382.6 60.2L383.5 59.7L384.4 59.2L385.3 58.7L386.2 58.2L387.1 57.7L388.0 57.2L388.9 56.7L389.8 56.2L390.7 55.8L391.6 55.3L392.6 54.8L393.5 54.4L394.4 54.0L395.3 53.5L396.3 53.1L397.2 52.7L398.2 52.4L399.1 52.0L400.0 51.6L401.0 51.3L402.0 51.0L402.9 50.7L403.9 50.4L404.9 50.1L405.8 49.9L406.8 49.6L407.8 49.4L408.8 49.2L409.8 49.0L410.8 48.8L411.8 48.7L412.8 48.6L413.8 48.4L414.8 48.3L415.8 48.2L416.8 48.1L417.8 48.0L418.8 48.0L419.8 47.9L420.8 47.8L421.8 47.8L422.8 47.8L423.9 47.7L424.9 47.7L425.9 47.7L426.9 47.6L427.9 47.6L429.0 47.6L430.0 47.6L431.0 47.6L432.0 47.6L433.0 47.6L434.1 47.6L435.1 47.5L436.1 47.5L437.1 47.5L438.1 47.5L439.2 47.5L440.2 47.5L441.2 47.5L442.2 47.5L443.2 47.5L444.3 47.5L445.3 47.5L446.3 47.5L447.3 47.5L448.3 47.5L449.3 47.5L450.4 47.5L451.4 47.5L452.4 47.5L453.4 47.5L454.4 47.5L455.5 47.5L456.5 47.5L457.5 47.5L458.5 47.5L459.5 47.5L460.6 47.5L461.6 47.5L462.6 47.5L463.6 47.5L464.6 47.5L465.6 47.5L466.7 47.5L467.7 47.5L468.7 47.5L469.7 47.5L470.7 47.5L471.8 47.5L472.8 47.5L473.8 47.5L474.8 47.5L475.8 47.5L476.8 47.5L477.9 47.5L478.9 47.5L479.9 47.5L480.9 47.5L481.9 47.5L483.0 47.5L484.0 47.5L485.0 47.5" fill="none" stroke="#96dc96" stroke-width="1.85" stroke-linejoin="round" stroke-linecap="round"/>
</g>
<rect x="78.60" y="13.60" width="407.10" height="298.80" fill="none" stroke="#111" stroke-width="1.4"/>
<path d="M373.3 66.8H323.5M393 210.3H433.5" stroke="#222" stroke-width="1.35" fill="none"/>
<path d="M320 66.8L325 64.3L325 69.3Z M437 210.3L432 207.8L432 212.8Z" fill="#222"/>
<text x="72.3" y="316.50" font-size="13" text-anchor="end">0.0E+0</text>
<text x="72.3" y="266.70" font-size="13" text-anchor="end">3.0E+5</text>
<text x="72.3" y="216.90" font-size="13" text-anchor="end">6.0E+5</text>
<text x="72.3" y="167.10" font-size="13" text-anchor="end">9.0E+5</text>
<text x="72.3" y="117.30" font-size="13" text-anchor="end">1.2E+6</text>
<text x="72.3" y="67.50" font-size="13" text-anchor="end">1.5E+6</text>
<text x="72.3" y="17.70" font-size="13" text-anchor="end">1.8E+6</text>
<text x="78.60" y="328.8" font-size="13" text-anchor="middle">0</text>
<text x="160.02" y="328.8" font-size="13" text-anchor="middle">500</text>
<text x="241.44" y="328.8" font-size="13" text-anchor="middle">1000</text>
<text x="322.86" y="328.8" font-size="13" text-anchor="middle">1500</text>
<text x="404.28" y="328.8" font-size="13" text-anchor="middle">2000</text>
<text x="485.70" y="328.8" font-size="13" text-anchor="middle">2500</text>
<text x="492.1" y="316.50" font-size="13">0</text>
<text x="492.1" y="241.80" font-size="13">400</text>
<text x="492.1" y="167.10" font-size="13">800</text>
<text x="492.1" y="92.40" font-size="13">1200</text>
<text x="492.1" y="17.70" font-size="13">1600</text>
<text x="281.9" y="353.1" font-size="16" text-anchor="middle">Time/d</text>
<text transform="translate(15.2 163.3) rotate(-90)" font-size="16" text-anchor="middle">Cumulative gas production/ m<tspan font-size="8.2" dy="-5.6">3</tspan></text>
<text transform="translate(543 167.1) rotate(-90)" font-size="16" text-anchor="middle">Gas production rate/ m<tspan font-size="8.2" dy="-6.2">3</tspan><tspan dy="6.2">/d</tspan></text>
<path d="M347.90 116.95L348.87 119.62L351.70 119.71L349.47 121.46L350.25 124.19L347.90 122.60L345.55 124.19L346.33 121.46L344.10 119.71L346.93 119.62Z" fill="#ff2612"/>
<path d="M332.6 136.8H362.7" stroke="#96dc96" stroke-width="2"/>
<text x="365.7" y="124.8" font-size="13">Li et al., 2021</text>
<text x="365.7" y="141.6" font-size="13">Model in this paper</text>
</svg></body></html>
